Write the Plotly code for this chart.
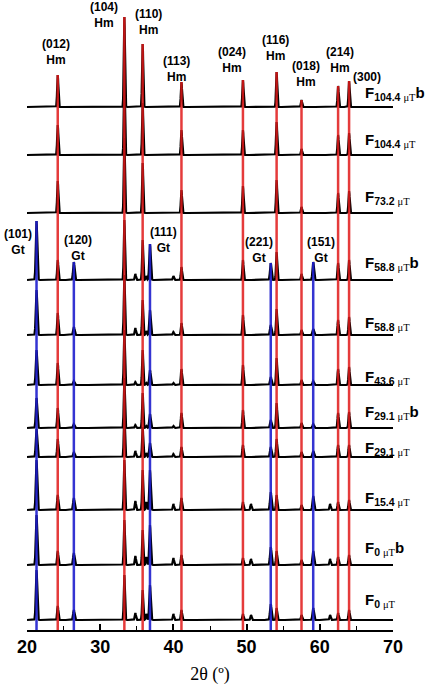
import numpy as np
import plotly.graph_objects as go

# peak positions (2theta, deg) and labels
hm_pos = [24.2, 33.3, 35.8, 41.1, 49.5, 54.1, 57.5, 62.5, 64.0]
hm_hkl = ["(012)", "(104)", "(110)", "(113)", "(024)", "(116)", "(018)", "(214)", "(300)"]
gt_pos = [21.3, 26.4, 36.8, 53.3, 59.1]
gt_hkl = ["(101)", "(120)", "(111)", "(221)", "(151)"]
minor_pos = [34.8, 36.3, 40.0, 50.6, 61.4]

# samples, bottom to top
sample_sub = ["0", "0", "15.4", "29.1", "29.1", "43.6", "58.8", "58.8", "73.2", "104.4", "104.4"]
sample_suffix = ["", "b", "", "", "b", "", "", "b", "", "", "b"]
offsets = [10, 65, 120, 173, 202, 245, 295, 350, 417, 475, 523]

# peak heights per sample (same order as positions)
hm_heights = [
    [14, 45, 30, 10, 6, 12, 5, 7, 10],
    [14, 45, 35, 10, 7, 14, 5, 8, 10],
    [15, 50, 40, 12, 8, 15, 5, 8, 10],
    [18, 45, 30, 10, 12, 18, 5, 12, 12],
    [20, 50, 35, 15, 18, 25, 5, 15, 16],
    [22, 55, 35, 16, 20, 27, 5, 16, 18],
    [22, 60, 35, 12, 20, 26, 5, 15, 18],
    [20, 60, 40, 13, 20, 28, 6, 17, 20],
    [32, 75, 50, 23, 27, 33, 6, 20, 22],
    [30, 80, 52, 25, 25, 33, 6, 20, 22],
    [32, 90, 63, 25, 27, 35, 7, 21, 26],
]
gt_heights = [
    [50, 10, 35, 16, 12],
    [50, 12, 40, 18, 14],
    [50, 12, 40, 18, 14],
    [28, 5, 14, 10, 6],
    [30, 4, 14, 8, 4],
    [35, 4, 15, 8, 4],
    [45, 8, 25, 10, 6],
    [59, 18, 36, 17, 18],
    [0, 0, 0, 0, 0],
    [0, 0, 0, 0, 0],
    [0, 0, 0, 0, 0],
]
minor_heights = [
    [7, 6, 6, 5, 5],
    [9, 8, 7, 6, 6],
    [9, 8, 6, 6, 6],
    [6, 4, 3, 0, 0],
    [3, 2, 2, 0, 0],
    [3, 2, 2, 0, 0],
    [7, 4, 3, 0, 0],
    [6, 4, 4, 0, 0],
    [0, 0, 0, 0, 0],
    [0, 0, 0, 0, 0],
    [0, 0, 0, 0, 0],
]

x = np.arange(20, 70.001, 0.02)


def pattern(i):
    y = np.full_like(x, offsets[i], dtype=float)
    for p, h in zip(hm_pos, hm_heights[i]):
        y += h * np.exp(-0.5 * ((x - p) / 0.08) ** 2)
    for p, h in zip(gt_pos, gt_heights[i]):
        y += h * np.exp(-0.5 * ((x - p) / 0.1) ** 2)
    for p, h in zip(minor_pos, minor_heights[i]):
        y += h * np.exp(-0.5 * ((x - p) / 0.08) ** 2)
    return y


fig = go.Figure()
for i in range(len(offsets)):
    fig.add_trace(go.Scatter(x=x, y=pattern(i), mode="lines",
                             line=dict(color="black", width=2.2), hoverinfo="skip"))

# reference lines up to the strongest pattern of each phase
hm_top = [offsets[10] + h for h in hm_heights[10]]
gt_top = [offsets[7] + h for h in gt_heights[7]]
for p, t in zip(hm_pos, hm_top):
    fig.add_trace(go.Scatter(x=[p, p], y=[0, t], mode="lines",
                             line=dict(color="rgba(225,25,25,0.85)", width=2.5), hoverinfo="skip"))
for p, t in zip(gt_pos, gt_top):
    fig.add_trace(go.Scatter(x=[p, p], y=[0, t], mode="lines",
                             line=dict(color="rgba(30,30,205,0.9)", width=2.5), hoverinfo="skip"))

lab_font = dict(family="Liberation Sans", size=12, color="black")
serif = "'Liberation Serif', 'DejaVu Serif', serif"

# hkl labels (x in deg, y centre in plot units)
hm_lab_x = [23.96, 30.52, 36.57, 40.45, 48.05, 54.0, 58.1, 62.76, 66.5]
hm_lab_y = [578, 615, 608, 561, 570, 582, 556, 570, 553]
for i, (lx, ly) in enumerate(zip(hm_lab_x, hm_lab_y)):
    txt = f"<b>{hm_hkl[i]}</b>" if hm_hkl[i] == "(300)" else f"<b>{hm_hkl[i]}<br>Hm</b>"
    fig.add_annotation(x=lx, y=ly, text=txt, showarrow=False, font=lab_font,
                       xanchor="center", yanchor="middle")

gt_lab_x = [21.3, 26.9, 38.6, 51.7, 60.2]
gt_lab_shift = [-19, 0, 0, 0, 0]
gt_lab_y = [388, 382, 390, 380, 380]
for i, (lx, ly) in enumerate(zip(gt_lab_x, gt_lab_y)):
    fig.add_annotation(x=lx, y=ly, xshift=gt_lab_shift[i], text=f"<b>{gt_hkl[i]}<br>Gt</b>",
                       showarrow=False, font=lab_font, xanchor="center", yanchor="middle")

# sample names on the right
name_y = [30, 82, 132, 182, 218, 253, 307, 367, 433, 490, 537]
for i in range(len(offsets)):
    txt = (f"<b>F</b><sub><b>{sample_sub[i]}</b> "
           f"<span style=\"font-family:{serif}\">μT</span></sub><b>{sample_suffix[i]}</b>")
    fig.add_annotation(x=65.9, y=name_y[i], text=txt, showarrow=False, xanchor="left",
                       yanchor="middle", font=dict(family="Liberation Sans", size=15, color="black"))

fig.update_layout(
    width=433, height=685,
    margin=dict(l=27, r=40, t=0, b=55),
    paper_bgcolor="white", plot_bgcolor="white",
    showlegend=False,
    xaxis=dict(range=[20, 70], tickvals=[20, 30, 40, 50, 60, 70], ticks="inside", ticklen=6,
               tickwidth=1.5, tickcolor="black", showline=True, linecolor="black", linewidth=1.5,
               showgrid=False, zeroline=False,
               tickfont=dict(family="Liberation Sans", size=18, color="black", weight="bold"),
               minor=dict(tickvals=[25, 35, 45, 55, 65], ticks="inside", ticklen=4,
                          tickcolor="black", tickwidth=1.2),
               title=dict(text="2θ (º)", standoff=12,
                          font=dict(family=serif, size=18, color="black"))),
    yaxis=dict(range=[0, 630], visible=False, showgrid=False, zeroline=False),
)

fig.write_html("out.html", config={"displayModeBar": False},
               post_script="document.body.style.margin='0';")
